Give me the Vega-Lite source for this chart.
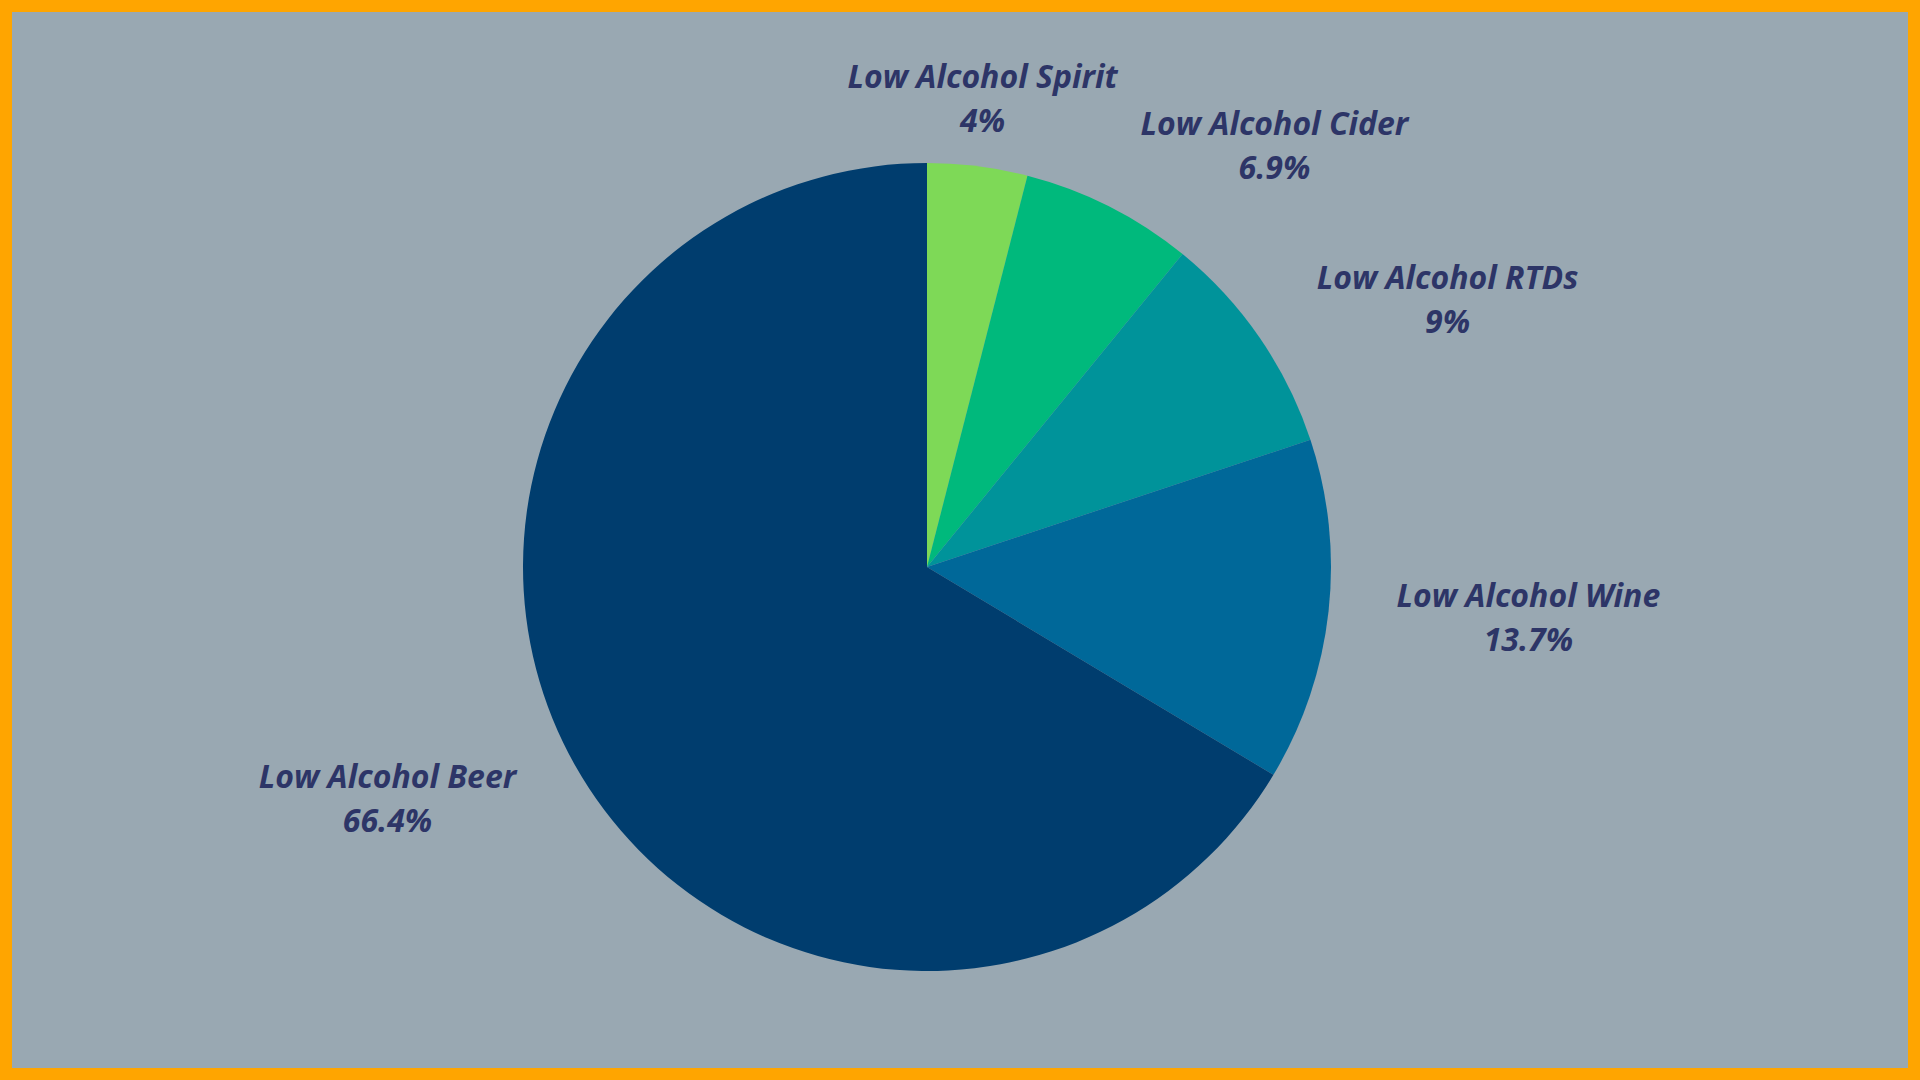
{
  "$schema": "https://vega.github.io/schema/vega-lite/v6.json",
  "background": "#FFA500",
  "padding": 12,
  "spacing": 0,
  "bounds": "flush",
  "config": {
    "view": {"fill": "#99A8B2", "stroke": null},
    "style": {"cell": {"fill": "#99A8B2", "stroke": null}},
    "concat": {"spacing": 0}
  },
  "vconcat": [
    {
      "width": 1896,
      "height": 54,
      "view": {"fill": "#99A8B2", "stroke": null},
      "data": {"values": [{"k": 1}]},
      "mark": {"type": "text", "text": ""},
      "encoding": {}
    },
    {
      "spacing": 0,
      "bounds": "flush",
      "hconcat": [
        {
          "width": 1830,
          "height": 1002,
          "view": {"fill": "#99A8B2", "stroke": null},
          "data": {
            "values": [
              {"category": "Low Alcohol Spirit", "value": 4.0, "rank": 1, "label": "Low Alcohol Spirit\n4%"},
              {"category": "Low Alcohol Cider", "value": 6.9, "rank": 2, "label": "Low Alcohol Cider\n6.9%"},
              {"category": "Low Alcohol RTDs", "value": 9.0, "rank": 3, "label": "Low Alcohol RTDs\n9%"},
              {"category": "Low Alcohol Wine", "value": 13.7, "rank": 4, "label": "Low Alcohol Wine\n13.7%"},
              {"category": "Low Alcohol Beer", "value": 66.4, "rank": 5, "label": "Low Alcohol Beer\n66.4%"}
            ]
          },
          "encoding": {
            "theta": {"field": "value", "type": "quantitative", "stack": true},
            "order": {"field": "rank", "type": "quantitative"}
          },
          "layer": [
            {
              "mark": {"type": "arc", "outerRadius": 404, "innerRadius": 0, "strokeWidth": 0},
              "encoding": {
                "color": {
                  "field": "category",
                  "type": "nominal",
                  "legend": null,
                  "scale": {
                    "domain": ["Low Alcohol Spirit", "Low Alcohol Cider", "Low Alcohol RTDs", "Low Alcohol Wine", "Low Alcohol Beer"],
                    "range": ["#7ED957", "#00B97C", "#00939A", "#006899", "#003D6E"]
                  }
                }
              }
            },
            {
              "mark": {
                "type": "text",
                "font": "Open Sans",
                "fontSize": 32,
                "fontWeight": "bold",
                "fontStyle": "italic",
                "color": "#2D3567",
                "align": "center",
                "baseline": "alphabetic",
                "lineBreak": "\n",
                "lineHeight": 44,
                "radius": {"expr": "datum.rank == 1 ? 483 : datum.rank == 2 ? 484 : datum.rank == 3 ? 490 : datum.rank == 4 ? 605 : 620"},
                "dx": {"expr": "datum.rank == 1 ? -5 : datum.rank == 2 ? 129 : datum.rank == 3 ? 117 : 0"},
                "dy": {"expr": "datum.rank == 4 ? -26 : datum.rank == 5 ? -84 : 0"}
              },
              "encoding": {
                "detail": {"field": "category", "type": "nominal"},
                "text": {"field": "label", "type": "nominal"}
              }
            }
          ]
        },
        {
          "width": 66,
          "height": 1002,
          "view": {"fill": "#99A8B2", "stroke": null},
          "data": {"values": [{"k": 1}]},
          "mark": {"type": "text", "text": ""},
          "encoding": {}
        }
      ]
    }
  ]
}
